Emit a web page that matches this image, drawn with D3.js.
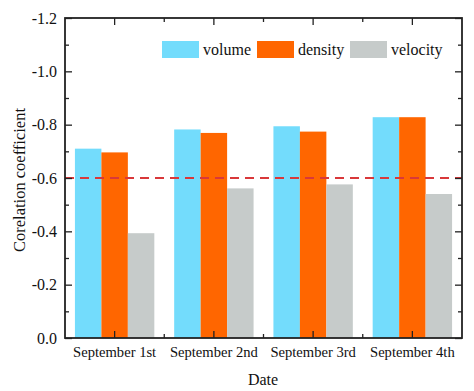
<!DOCTYPE html>
<html><head><meta charset="utf-8">
<script src="https://cdn.jsdelivr.net/npm/d3@7"></script>
<style>body{margin:0;background:#fff}svg{display:block}
svg text{font-family:"Liberation Serif","DejaVu Serif",serif;}</style>
</head><body>
<script>
const categories = ["September 1st","September 2nd","September 3rd","September 4th"];
const seriesNames = ["volume","density","velocity"];
const volume   = [-0.710, -0.782, -0.794, -0.828];
const density  = [-0.696, -0.769, -0.774, -0.828];
const velocity = [-0.393, -0.561, -0.576, -0.540];
const colors = ["#73dcfc","#ff6600","#c6cbca"];
const yTicks = [0, -0.2, -0.4, -0.6, -0.8, -1.0, -1.2];
const yMinor = [-0.1, -0.3, -0.5, -0.7, -0.9, -1.1];
const threshold = -0.6;

const W = 474, H = 391;
const m = {l:65, r:12, t:18, b:53};
const svg = d3.select("body").append("svg").attr("width",W).attr("height",H);
const pw = W - m.l - m.r, ph = H - m.t - m.b;
const g = svg.append("g").attr("transform",`translate(${m.l},${m.t})`);
const FONT = "Liberation Serif, DejaVu Serif, serif";

const x = d3.scaleBand().domain(categories).range([0,pw]).paddingInner(0).paddingOuter(0);
const x1 = d3.scaleBand().domain(seriesNames).range([x.bandwidth()*0.1, x.bandwidth()*0.9]).padding(0);
const y = d3.scaleLinear().domain([0,-1.2]).range([ph,0]);
const data = [volume, density, velocity];

seriesNames.forEach((s,si)=>{
  g.selectAll(".b"+si).data(categories).enter().append("rect")
    .attr("x", c => x(c) + x1(s))
    .attr("width", x1.bandwidth())
    .attr("y", (c,i) => y(data[si][i]))
    .attr("height", (c,i) => y(0) - y(data[si][i]))
    .attr("fill", colors[si]);
});

g.append("line").attr("x1",0).attr("x2",pw).attr("y1",y(threshold)).attr("y2",y(threshold))
  .attr("stroke","#d9383a").attr("stroke-width",2).attr("stroke-dasharray","9,6");

const axStyle = sel => { sel.select(".domain").remove(); sel.selectAll("line").attr("stroke","#222").attr("stroke-width",1.3); sel.attr("font-family",FONT); };
const fmt = d => d===0 ? "0.0" : "-" + Math.abs(d).toFixed(1);
const left = g.append("g").call(d3.axisLeft(y).tickValues(yTicks).tickSize(-7).tickPadding(8).tickFormat(fmt));
axStyle(left);
left.selectAll("text").attr("font-size",16).attr("fill","#111");
g.append("g").call(d3.axisLeft(y).tickValues(yMinor).tickSize(-4).tickFormat("")).call(axStyle);
g.append("g").attr("transform",`translate(${pw},0)`).call(d3.axisRight(y).tickValues(yTicks).tickSize(-7).tickFormat("")).call(axStyle);
g.append("g").attr("transform",`translate(${pw},0)`).call(d3.axisRight(y).tickValues(yMinor).tickSize(-4).tickFormat("")).call(axStyle);
const bottom = g.append("g").attr("transform",`translate(0,${ph})`).call(d3.axisBottom(x).tickSize(-7).tickPadding(9));
axStyle(bottom);
bottom.selectAll("text").attr("font-size",14.6).attr("fill","#111");
const bounds = categories.slice(1).map(c => x(c));
g.append("g").attr("transform",`translate(0,${ph})`)
  .selectAll("line").data(bounds).enter().append("line")
  .attr("x1",d=>d).attr("x2",d=>d).attr("y1",0).attr("y2",-4).attr("stroke","#222").attr("stroke-width",1.3);
g.append("g").call(d3.axisTop(x).tickSize(-7).tickFormat("")).call(axStyle);
g.append("g").selectAll("line").data(bounds).enter().append("line")
  .attr("x1",d=>d).attr("x2",d=>d).attr("y1",0).attr("y2",4).attr("stroke","#222").attr("stroke-width",1.3);

g.append("rect").attr("x",0).attr("y",0).attr("width",pw).attr("height",ph)
  .attr("fill","none").attr("stroke","#222").attr("stroke-width",1.8);

svg.append("text").attr("x", 263).attr("y", 385).attr("text-anchor","middle")
  .attr("font-family",FONT).attr("font-size",16).attr("fill","#111").text("Date");
svg.append("text").attr("transform",`translate(25,180) rotate(-90)`).attr("text-anchor","middle")
  .attr("font-family",FONT).attr("font-size",16.5).attr("fill","#111").text("Corelation coefficient");

const legX = [162, 257, 350];
const leg = svg.append("g");
seriesNames.forEach((s,i)=>{
  leg.append("rect").attr("x",legX[i]).attr("y",41).attr("width",37).attr("height",17).attr("fill",colors[i]);
  leg.append("text").attr("x",legX[i]+41).attr("y",55).attr("font-family",FONT).attr("font-size",16)
    .attr("fill","#111").text(s);
});
</script>
</body></html>
